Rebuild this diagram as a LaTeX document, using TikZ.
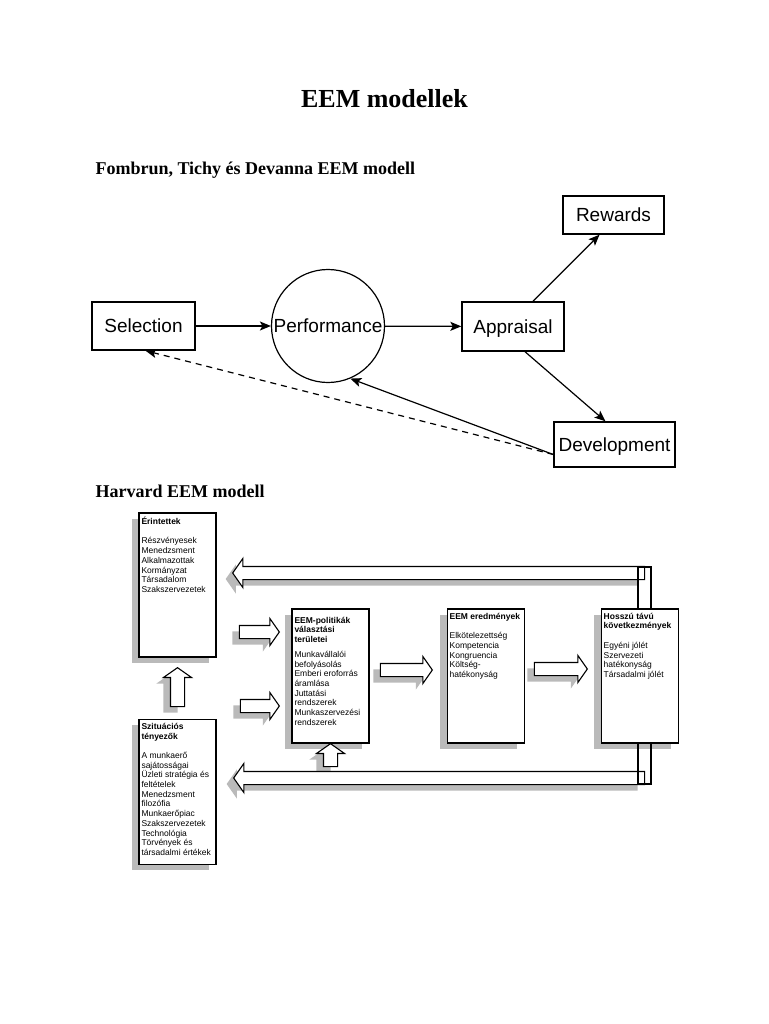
\documentclass[tikz,border=0pt]{standalone}
\usepackage{fontspec}
\setmainfont{Liberation Serif}
\setsansfont{Liberation Sans}
\usepackage{tikz}
\usetikzlibrary{positioning, arrows.meta, shapes.arrows, shadows, calc}
\tikzset{
    model/.style={rectangle, draw=black, line width=1.4pt, fill=white, inner sep=0pt, text height=13.5pt, text depth=0pt, font=\sffamily\fontsize{19}{22}\selectfont},
    perf/.style={circle, draw=black, line width=1.2pt, fill=white, inner sep=0pt, text height=13.5pt, text depth=0pt, minimum size=113pt, font=\sffamily\fontsize{19}{22}\selectfont},
    arrow/.style={-{Stealth[length=11pt, width=9pt, inset=2.5pt]}, line width=1.2pt},
    heading/.style={font=\bfseries\fontsize{18}{22}\selectfont, anchor=base west},
    dropshade/.style={drop shadow={shadow xshift=-7pt, shadow yshift=-6pt, fill=black!27, opacity=1}},
    panel/.style={rectangle, draw=black, line width=1.1pt, fill=white, inner xsep=2.5pt, inner ysep=4pt, dropshade, font=\sffamily\fontsize{8.5}{9.7}\selectfont},
    hollow/.style={single arrow, draw=black, line width=1.1pt, fill=white, inner sep=0pt, inner ysep=6pt, single arrow head extend=7pt, single arrow tip angle=110, dropshade, anchor=tip},
    hollowup/.style={hollow, shape border rotate=90, inner ysep=0pt, inner xsep=6.5pt},
    bar/.style={draw=black, line width=1.1pt}
}
\newcommand{\paneltext}[2]{\parbox[c][#1][t]{72pt}{\raggedright #2}}

\begin{document}
\begin{tikzpicture}[x=1pt, y=-1pt]
    \useasboundingbox (0,0) rectangle (768,1024);

    % Titles
    \node[font=\bfseries\fontsize{26}{30}\selectfont, anchor=base] (Title) at (384.5,108) {EEM modellek};
    \node[heading] (FombrunTitle) at (92,174.5) {Fombrun, Tichy és Devanna EEM modell};
    \node[heading] (HarvardTitle) at (92,497) {Harvard EEM modell};

    % Fombrun, Tichy, Devanna
    \node[model, minimum width=103pt, minimum height=48pt] (Selection) at (143.5,326) {Selection};
    \node[perf] (Performance) at (328,326) {Performance};
    \node[model, minimum width=102pt, minimum height=49pt] (Appraisal) at (513,326.5) {Appraisal};
    \node[model, minimum width=101pt, minimum height=38pt] (Rewards) at (613.5,215) {Rewards};
    \node[model, minimum width=121pt, minimum height=45pt] (Development) at (614.5,444.5) {Development};

    \draw[arrow] (Selection) -- (Performance);
    \draw[arrow] (Performance) -- (Appraisal);
    \draw[arrow] ([xshift=20pt]Appraisal.north) -- ([xshift=-14pt]Rewards.south);
    \draw[arrow] ([xshift=12pt]Appraisal.south) -- ([xshift=-9pt]Development.north);
    \draw[arrow] ([yshift=-10pt]Development.west) -- (Performance.-67);
    \draw[arrow, dash pattern=on 6pt off 5pt] ([yshift=-10pt]Development.west) -- ([xshift=2pt]Selection.south);

    % Harvard
    \node[panel] (Erintettek) at (177.5,585) {\paneltext{136pt}{\textbf{Érintettek}\\[9.7pt]
        Részvényesek\\ Menedzsment\\ Alkalmazottak\\ Kormányzat\\ Társadalom\\ Szakszervezetek}};
    \node[panel, below=61pt of Erintettek] (Szituacios) {\paneltext{137pt}{\textbf{Szituációs\\ tényezők}\\[9.7pt]
        A munkaerő\\ sajátosságai\\ Üzleti stratégia és\\ feltételek\\ Menedzsment\\ filozófia\\ Munkaerőpiac\\ Szakszervezetek\\ Technológia\\ Törvények és\\ társadalmi értékek}};
    \node[panel] (Politikak) at (330.5,676) {\paneltext{126pt}{\vspace*{4pt}\textbf{EEM-politikák\\ választási\\ területei}\\[5pt]
        Munkavállalói\\ befolyásolás\\ Emberi eroforrás\\ áramlása\\ Juttatási\\ rendszerek\\ Munkaszervezési\\ rendszerek}};
    \node[panel, right=77pt of Politikak] (Eredmenyek) {\paneltext{126pt}{\textbf{EEM eredmények}\\[9.7pt]
        Elkötelezettség\\ Kompetencia\\ Kongruencia\\ Költség-\\ hatékonyság}};
    \node[panel, right=76pt of Eredmenyek] (Hosszu) {\paneltext{126pt}{\textbf{Hosszú távú\\ következmények}\\[9.7pt]
        Egyéni jólét\\ Szervezeti\\ hatékonyság\\ Társadalmi jólét}};

    % Block arrows
    \node[hollowup, minimum height=39pt] (ToErintettek) at (177.5,667) {};
    \node[hollow, minimum height=40pt] (ToPolitikakA) at (280,632) {};
    \node[hollow, minimum height=39pt] (ToPolitikakB) at (280,706) {};
    \node[hollowup, minimum height=23pt] (ToPolitikakC) at (330.5,743) {};
    \node[hollow, minimum height=52pt] (ToEredmenyek) at (433,670) {};
    \node[hollow, minimum height=53pt] (ToHosszu) at (588,669) {};

    % Feedback
    \node[hollow, shape border rotate=180, single arrow head extend=8pt, minimum height=412pt] (FeedbackTop) at (232,573) {};
    \node[hollow, shape border rotate=180, single arrow head extend=8pt, minimum height=411pt] (FeedbackBottom) at (233,778) {};
    \coordinate (BarTL) at (638,567);
    \coordinate (BarTR) at (651,567);
    \coordinate (BarBL) at (638,784);
    \coordinate (BarBR) at (651,784);
    \draw[bar] (BarTL |- Hosszu.north) -- (BarTL) -- (BarTR) -- (BarTR |- Hosszu.north);
    \draw[bar] (BarBL |- Hosszu.south) -- (BarBL) -- (BarBR) -- (BarBR |- Hosszu.south);
\end{tikzpicture}
\end{document}
